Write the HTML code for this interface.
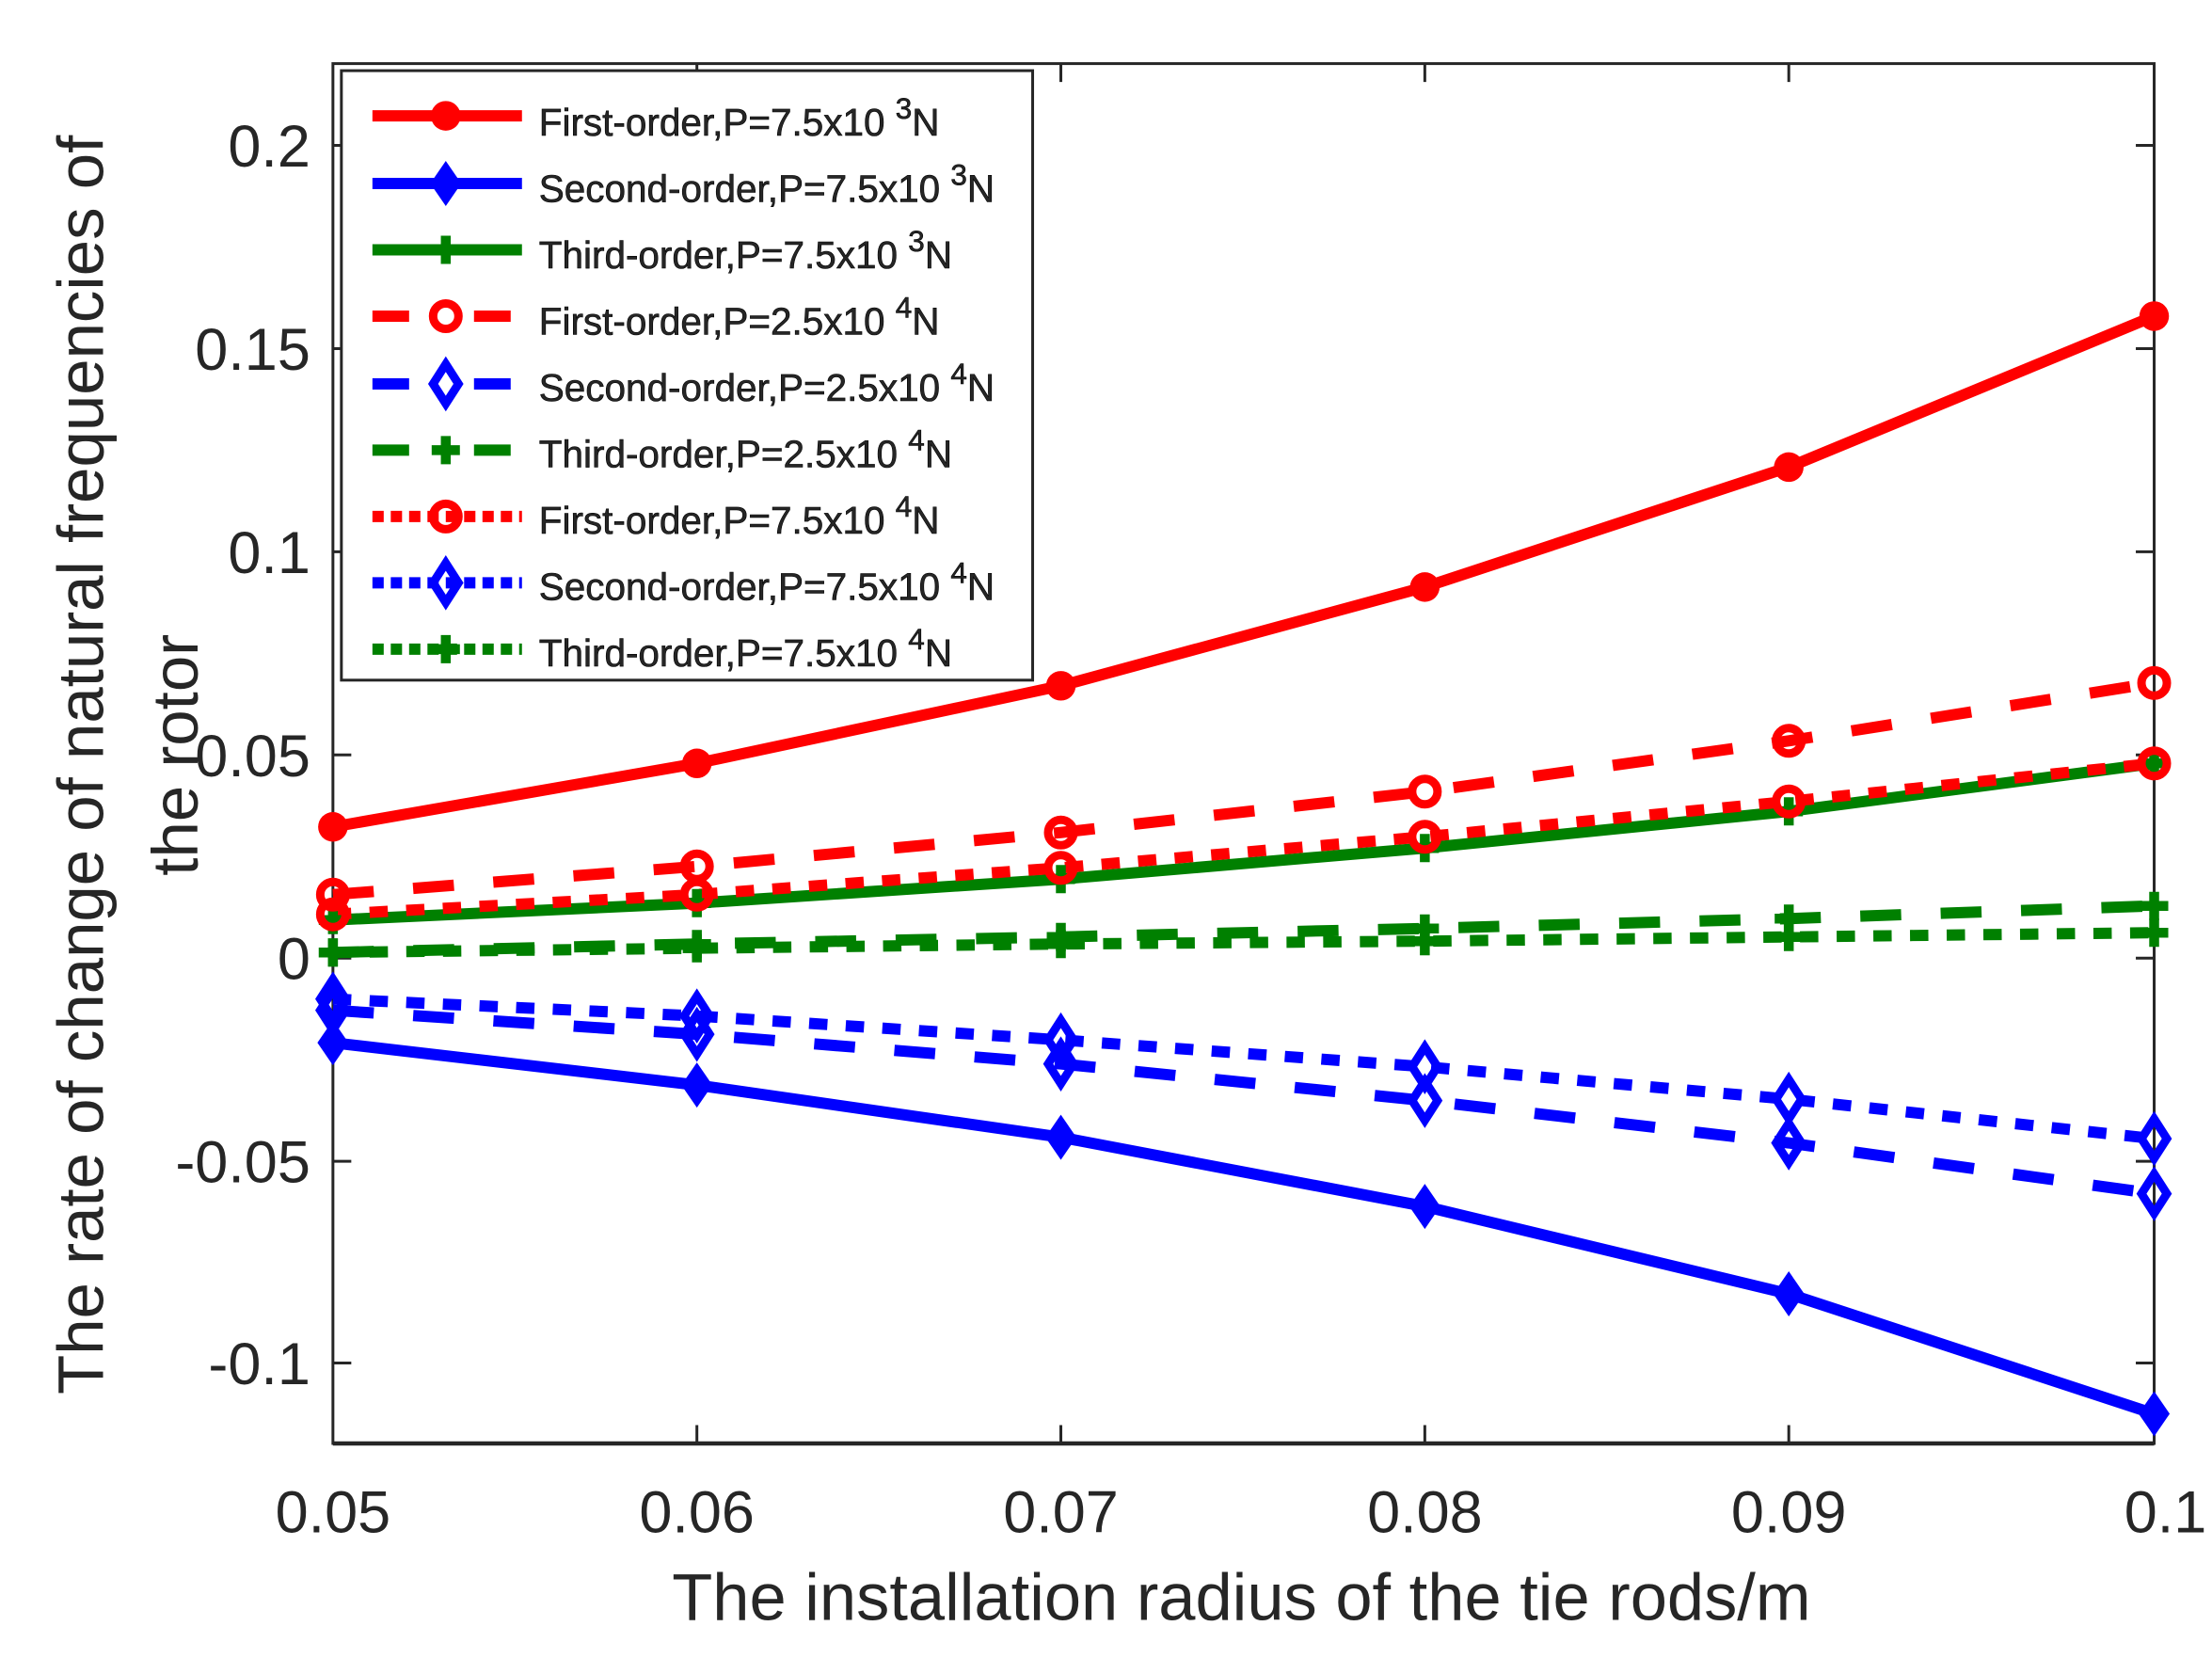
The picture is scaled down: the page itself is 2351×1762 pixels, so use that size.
<!DOCTYPE html>
<html><head><meta charset="utf-8"><style>
html,body{margin:0;padding:0;background:#fff;}
svg{display:block;}
text{font-family:"Liberation Sans",Arial,sans-serif;fill:#262626;}
</style></head><body>
<svg width="2351" height="1762" viewBox="0 0 1568 1175" xmlns="http://www.w3.org/2000/svg">
<defs>
<g id="cf"><circle r="10.5" fill="red"/></g>
<g id="co"><circle r="9" fill="none" stroke="red" stroke-width="6"/></g>
<g id="df"><path d="M0,-16 L11,0 L0,16 L-11,0Z" fill="blue"/></g>
<g id="do"><path d="M0,-14 L9,0 L0,14 L-9,0Z" fill="none" stroke="blue" stroke-width="6"/></g>
<g id="pl"><path d="M-10,0H10M0,-10V10" stroke="green" stroke-width="7"/></g>
</defs>
<rect x="236" y="45" width="1291" height="978" fill="#fff" stroke="#262626" stroke-width="2"/>
<g stroke="#262626" stroke-width="2">
<path d="M494,1023v-13M752,1023v-13M1010,1023v-13M1268,1023v-13M494,45v13M752,45v13M1010,45v13M1268,45v13"/>
<path d="M236,103h13M236,247h13M236,391h13M236,535h13M236,679h13M236,823h13M236,966h13M1527,103h-13M1527,247h-13M1527,391h-13M1527,535h-13M1527,679h-13M1527,823h-13M1527,966h-13"/>
</g>
<line x1="236" y1="1023" x2="1527" y2="1023" stroke="#262626" stroke-width="3"/>
<g font-size="42" text-anchor="end">
<text x="220" y="118">0.2</text><text x="220" y="262">0.15</text><text x="220" y="406">0.1</text>
<text x="220" y="550">0.05</text><text x="220" y="694">0</text><text x="220" y="838">-0.05</text><text x="220" y="981">-0.1</text>
</g>
<g font-size="42" text-anchor="middle">
<text x="236" y="1086">0.05</text><text x="494" y="1086">0.06</text><text x="752" y="1086">0.07</text>
<text x="1010" y="1086">0.08</text><text x="1268" y="1086">0.09</text><text x="1535" y="1086">0.1</text>
</g>
<text x="880" y="1148" font-size="47" text-anchor="middle">The installation radius of the tie rods/m</text>
<text transform="translate(73,542) rotate(-90)" font-size="46" text-anchor="middle">The rate of change of natural frequencies of</text>
<text transform="translate(140,535) rotate(-90)" font-size="46" text-anchor="middle">the  rotor</text>

<g fill="none" stroke-width="8" stroke-linejoin="round">
<polyline stroke="red" points="236,586 494,541 752,486 1010,416 1268,331 1527,224"/>
<polyline stroke="blue" points="236,739 494,769 752,806 1010,855 1268,917 1527,1002"/>
<polyline stroke="green" points="236,652 494,640 752,623 1010,601 1268,575 1527,541"/>
<polyline stroke="red" stroke-dasharray="29,28" points="236,634 494,614 752,590 1010,561 1268,525 1527,484"/>
<polyline stroke="blue" stroke-dasharray="29,28" points="236,716 494,733 752,754 1010,780 1268,810 1527,846"/>
<polyline stroke="green" stroke-dasharray="29,28" points="236,675 494,669 752,664 1010,658 1268,651 1527,642"/>
<polyline stroke="red" stroke-dasharray="13,13" points="236,648 494,634 752,615 1010,593 1268,568 1527,541"/>
<polyline stroke="blue" stroke-dasharray="13,13" points="236,708 494,720 752,737 1010,756 1268,779 1527,807"/>
<polyline stroke="green" stroke-dasharray="13,13" points="236,675 494,672 752,669 1010,667 1268,664 1527,661"/>
</g>
<g>
<use href="#cf" x="236" y="586"/><use href="#cf" x="494" y="541"/><use href="#cf" x="752" y="486"/><use href="#cf" x="1010" y="416"/><use href="#cf" x="1268" y="331"/><use href="#cf" x="1527" y="224"/>
<use href="#df" x="236" y="739"/><use href="#df" x="494" y="769"/><use href="#df" x="752" y="806"/><use href="#df" x="1010" y="855"/><use href="#df" x="1268" y="917"/><use href="#df" x="1527" y="1002"/>
<use href="#pl" x="236" y="652"/><use href="#pl" x="494" y="640"/><use href="#pl" x="752" y="623"/><use href="#pl" x="1010" y="601"/><use href="#pl" x="1268" y="575"/><use href="#pl" x="1527" y="541"/>
<use href="#co" x="236" y="634"/><use href="#co" x="494" y="614"/><use href="#co" x="752" y="590"/><use href="#co" x="1010" y="561"/><use href="#co" x="1268" y="525"/><use href="#co" x="1527" y="484"/>
<use href="#do" x="236" y="716"/><use href="#do" x="494" y="733"/><use href="#do" x="752" y="754"/><use href="#do" x="1010" y="780"/><use href="#do" x="1268" y="810"/><use href="#do" x="1527" y="846"/>
<use href="#pl" x="236" y="675"/><use href="#pl" x="494" y="669"/><use href="#pl" x="752" y="664"/><use href="#pl" x="1010" y="658"/><use href="#pl" x="1268" y="651"/><use href="#pl" x="1527" y="642"/>
<use href="#co" x="236" y="648"/><use href="#co" x="494" y="634"/><use href="#co" x="752" y="615"/><use href="#co" x="1010" y="593"/><use href="#co" x="1268" y="568"/><use href="#co" x="1527" y="541"/>
<use href="#do" x="236" y="708"/><use href="#do" x="494" y="720"/><use href="#do" x="752" y="737"/><use href="#do" x="1010" y="756"/><use href="#do" x="1268" y="779"/><use href="#do" x="1527" y="807"/>
<use href="#pl" x="236" y="675"/><use href="#pl" x="494" y="672"/><use href="#pl" x="752" y="669"/><use href="#pl" x="1010" y="667"/><use href="#pl" x="1268" y="664"/><use href="#pl" x="1527" y="661"/>
</g>

<rect x="242" y="50" width="490" height="432" fill="#fff" stroke="#262626" stroke-width="2"/>
<g fill="none" stroke-width="8">
<line x1="264" y1="82" x2="370" y2="82" stroke="red"/>
<line x1="264" y1="130" x2="370" y2="130" stroke="blue"/>
<line x1="264" y1="177" x2="370" y2="177" stroke="green"/>
<line x1="264" y1="224" x2="370" y2="224" stroke="red" stroke-dasharray="26,46"/>
<line x1="264" y1="272" x2="370" y2="272" stroke="blue" stroke-dasharray="26,46"/>
<line x1="264" y1="319" x2="370" y2="319" stroke="green" stroke-dasharray="26,46"/>
<line x1="264" y1="366" x2="370" y2="366" stroke="red" stroke-dasharray="8,5"/>
<line x1="264" y1="413" x2="370" y2="413" stroke="blue" stroke-dasharray="8,5"/>
<line x1="264" y1="460" x2="370" y2="460" stroke="green" stroke-dasharray="8,5"/>
</g>
<use href="#cf" x="316" y="82"/><use href="#df" x="316" y="130"/><use href="#pl" x="316" y="177"/>
<use href="#co" x="316" y="224"/><use href="#do" x="316" y="272"/><use href="#pl" x="316" y="319"/>
<use href="#co" x="316" y="366"/><use href="#do" x="316" y="413"/><use href="#pl" x="316" y="460"/>
<g font-size="27" fill="#000" stroke="#000" stroke-width="0.4">
<text x="382" y="96">First-order,P=7.5x10 <tspan dy="-12" font-size="21">3</tspan><tspan dy="12">N</tspan></text>
<text x="382" y="143">Second-order,P=7.5x10 <tspan dy="-12" font-size="21">3</tspan><tspan dy="12">N</tspan></text>
<text x="382" y="190">Third-order,P=7.5x10 <tspan dy="-12" font-size="21">3</tspan><tspan dy="12">N</tspan></text>
<text x="382" y="237">First-order,P=2.5x10 <tspan dy="-12" font-size="21">4</tspan><tspan dy="12">N</tspan></text>
<text x="382" y="284">Second-order,P=2.5x10 <tspan dy="-12" font-size="21">4</tspan><tspan dy="12">N</tspan></text>
<text x="382" y="331">Third-order,P=2.5x10 <tspan dy="-12" font-size="21">4</tspan><tspan dy="12">N</tspan></text>
<text x="382" y="378">First-order,P=7.5x10 <tspan dy="-12" font-size="21">4</tspan><tspan dy="12">N</tspan></text>
<text x="382" y="425">Second-order,P=7.5x10 <tspan dy="-12" font-size="21">4</tspan><tspan dy="12">N</tspan></text>
<text x="382" y="472">Third-order,P=7.5x10 <tspan dy="-12" font-size="21">4</tspan><tspan dy="12">N</tspan></text>
</g>
</svg>
</body></html>
